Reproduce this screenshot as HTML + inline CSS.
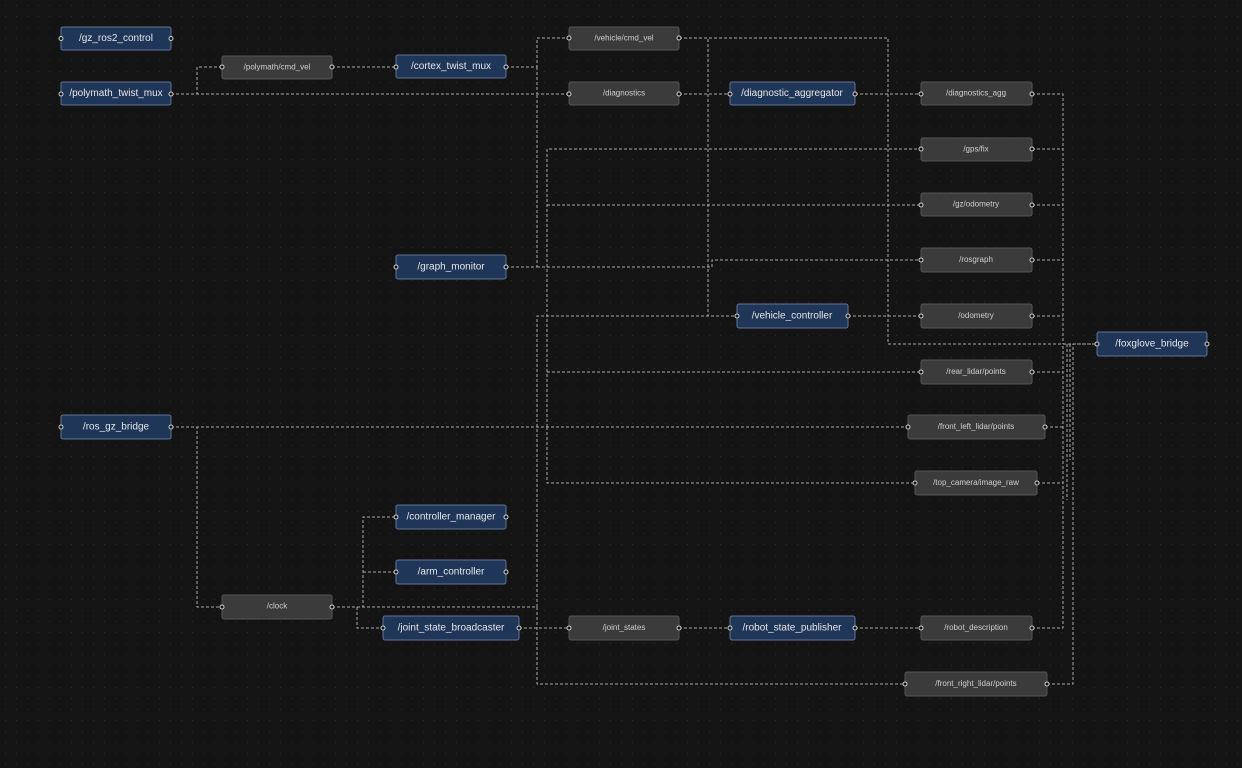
<!DOCTYPE html>
<html><head><meta charset="utf-8"><style>
html,body{margin:0;padding:0;background:#141414;}
svg{display:block}
text{font-family:"Liberation Sans",sans-serif;fill:#e6e6e6;text-anchor:middle;dominant-baseline:central}
.n rect{fill:#1f3659;stroke:#5f7596;stroke-width:1}
.t rect{fill:#3b3b3b;stroke:#555;stroke-width:1}
.n text{font-size:10px}
.t text{font-size:8px;fill:#cfcfcf}
.e path{fill:none;stroke:#a8a8a8;stroke-width:1;stroke-dasharray:3 2}
circle{fill:#141414;stroke:#cfcfcf;stroke-width:1}
</style></head><body>
<svg width="1242" height="768" viewBox="0 0 1242 768" xmlns="http://www.w3.org/2000/svg">
<defs><pattern id="g" width="11" height="11" patternUnits="userSpaceOnUse"><rect x="5" y="5" width="1" height="1" fill="#2e2e2e"/></pattern></defs>
<rect width="1242" height="768" fill="#141414"/>
<rect width="1242" height="768" fill="url(#g)"/>
<g class="e">
<path d="M171 94H197V67H222"/>
<path d="M171 94H569"/>
<path d="M332 67H396"/>
<path d="M506 67H537V38H569"/>
<path d="M537 67V94"/>
<path d="M679 38H888V344H1097"/>
<path d="M679 38H708V316H737"/>
<path d="M679 94H730"/>
<path d="M855 94H921"/>
<path d="M1032 94H1063V344"/>
<path d="M1032 149H1063"/><path d="M1032 205H1063"/><path d="M1032 260H1063"/><path d="M1032 316H1063"/>
<path d="M1032 372H1063"/><path d="M1045 427H1063"/><path d="M1037 483H1063"/>
<path d="M1032 628H1063V344"/>
<path d="M1047 684H1073V344H1097"/>
<path d="M1067 344V500"/><path d="M1070 344V460"/>
<path d="M506 267H537V94"/>
<path d="M537 267H712V260H921"/>
<path d="M848 316H921"/>
<path d="M171 427H908"/>
<path d="M547 427V149H921"/>
<path d="M547 205H921"/>
<path d="M547 372H921"/>
<path d="M547 427V483H915"/>
<path d="M171 427H197V607H222"/>
<path d="M332 607H537V316H737"/>
<path d="M537 607V684H905"/>
<path d="M332 607H363V517H396"/>
<path d="M363 572H396"/>
<path d="M357 607V628H383"/>
<path d="M519 628H569"/>
<path d="M679 628H730"/>
<path d="M855 628H921"/>
</g>
<g class="n"><rect x="61" y="27" width="110" height="23" rx="2"/><text x="116" y="38.5">/gz_ros2_control</text></g>
<g class="n"><rect x="61" y="82" width="110" height="23" rx="2"/><text x="116" y="93.5">/polymath_twist_mux</text></g>
<g class="t"><rect x="222" y="56" width="110" height="23" rx="2"/><text x="277" y="67">/polymath/cmd_vel</text></g>
<g class="n"><rect x="396" y="55" width="110" height="23" rx="2"/><text x="451" y="66.5">/cortex_twist_mux</text></g>
<g class="t"><rect x="569" y="27" width="110" height="23" rx="2"/><text x="624" y="38">/vehicle/cmd_vel</text></g>
<g class="t"><rect x="569" y="82" width="110" height="23" rx="2"/><text x="624" y="93">/diagnostics</text></g>
<g class="n"><rect x="730" y="82" width="125" height="23" rx="2"/><text x="792" y="93.5">/diagnostic_aggregator</text></g>
<g class="t"><rect x="921" y="82" width="111" height="23" rx="2"/><text x="976" y="93">/diagnostics_agg</text></g>
<g class="t"><rect x="921" y="138" width="111" height="23" rx="2"/><text x="976" y="149">/gps/fix</text></g>
<g class="t"><rect x="921" y="193" width="111" height="23" rx="2"/><text x="976" y="204">/gz/odometry</text></g>
<g class="t"><rect x="921" y="248" width="111" height="24" rx="2"/><text x="976" y="259.5">/rosgraph</text></g>
<g class="t"><rect x="921" y="304" width="111" height="24" rx="2"/><text x="976" y="315.5">/odometry</text></g>
<g class="n"><rect x="737" y="304" width="111" height="24" rx="2"/><text x="792" y="316">/vehicle_controller</text></g>
<g class="n"><rect x="396" y="255" width="110" height="24" rx="2"/><text x="451" y="267">/graph_monitor</text></g>
<g class="n"><rect x="1097" y="332" width="110" height="24" rx="2"/><text x="1152" y="344">/foxglove_bridge</text></g>
<g class="t"><rect x="921" y="360" width="111" height="24" rx="2"/><text x="976" y="371.5">/rear_lidar/points</text></g>
<g class="t"><rect x="908" y="415" width="137" height="24" rx="2"/><text x="976" y="426.5">/front_left_lidar/points</text></g>
<g class="t"><rect x="915" y="471" width="122" height="24" rx="2"/><text x="976" y="482.5">/top_camera/image_raw</text></g>
<g class="n"><rect x="61" y="415" width="110" height="24" rx="2"/><text x="116" y="427">/ros_gz_bridge</text></g>
<g class="n"><rect x="396" y="505" width="110" height="24" rx="2"/><text x="451" y="517">/controller_manager</text></g>
<g class="n"><rect x="396" y="560" width="110" height="24" rx="2"/><text x="451" y="572">/arm_controller</text></g>
<g class="t"><rect x="222" y="595" width="110" height="24" rx="2"/><text x="277" y="606">/clock</text></g>
<g class="n"><rect x="383" y="616" width="136" height="24" rx="2"/><text x="451" y="628">/joint_state_broadcaster</text></g>
<g class="t"><rect x="569" y="616" width="110" height="24" rx="2"/><text x="624" y="627.5">/joint_states</text></g>
<g class="n"><rect x="730" y="616" width="125" height="24" rx="2"/><text x="792" y="628">/robot_state_publisher</text></g>
<g class="t"><rect x="921" y="616" width="111" height="24" rx="2"/><text x="976" y="627.5">/robot_description</text></g>
<g class="t"><rect x="905" y="672" width="142" height="24" rx="2"/><text x="976" y="683.5">/front_right_lidar/points</text></g>
<g>
<circle cx="61" cy="38.5" r="2"/><circle cx="171" cy="38.5" r="2"/>
<circle cx="61" cy="94" r="2"/><circle cx="171" cy="94" r="2"/>
<circle cx="222" cy="67" r="2"/><circle cx="332" cy="67" r="2"/>
<circle cx="396" cy="67" r="2"/><circle cx="506" cy="67" r="2"/>
<circle cx="569" cy="38" r="2"/><circle cx="679" cy="38" r="2"/>
<circle cx="569" cy="94" r="2"/><circle cx="679" cy="94" r="2"/>
<circle cx="730" cy="94" r="2"/><circle cx="855" cy="94" r="2"/>
<circle cx="921" cy="94" r="2"/><circle cx="1032" cy="94" r="2"/>
<circle cx="921" cy="149" r="2"/><circle cx="1032" cy="149" r="2"/>
<circle cx="921" cy="205" r="2"/><circle cx="1032" cy="205" r="2"/>
<circle cx="921" cy="260" r="2"/><circle cx="1032" cy="260" r="2"/>
<circle cx="921" cy="316" r="2"/><circle cx="1032" cy="316" r="2"/>
<circle cx="737" cy="316" r="2"/><circle cx="848" cy="316" r="2"/>
<circle cx="396" cy="267" r="2"/><circle cx="506" cy="267" r="2"/>
<circle cx="1097" cy="344" r="2"/><circle cx="1207" cy="344" r="2"/>
<circle cx="921" cy="372" r="2"/><circle cx="1032" cy="372" r="2"/>
<circle cx="908" cy="427" r="2"/><circle cx="1045" cy="427" r="2"/>
<circle cx="915" cy="483" r="2"/><circle cx="1037" cy="483" r="2"/>
<circle cx="61" cy="427" r="2"/><circle cx="171" cy="427" r="2"/>
<circle cx="396" cy="517" r="2"/><circle cx="506" cy="517" r="2"/>
<circle cx="396" cy="572" r="2"/><circle cx="506" cy="572" r="2"/>
<circle cx="222" cy="607" r="2"/><circle cx="332" cy="607" r="2"/>
<circle cx="383" cy="628" r="2"/><circle cx="519" cy="628" r="2"/>
<circle cx="569" cy="628" r="2"/><circle cx="679" cy="628" r="2"/>
<circle cx="730" cy="628" r="2"/><circle cx="855" cy="628" r="2"/>
<circle cx="921" cy="628" r="2"/><circle cx="1032" cy="628" r="2"/>
<circle cx="905" cy="684" r="2"/><circle cx="1047" cy="684" r="2"/>
</g>
</svg>
</body></html>
